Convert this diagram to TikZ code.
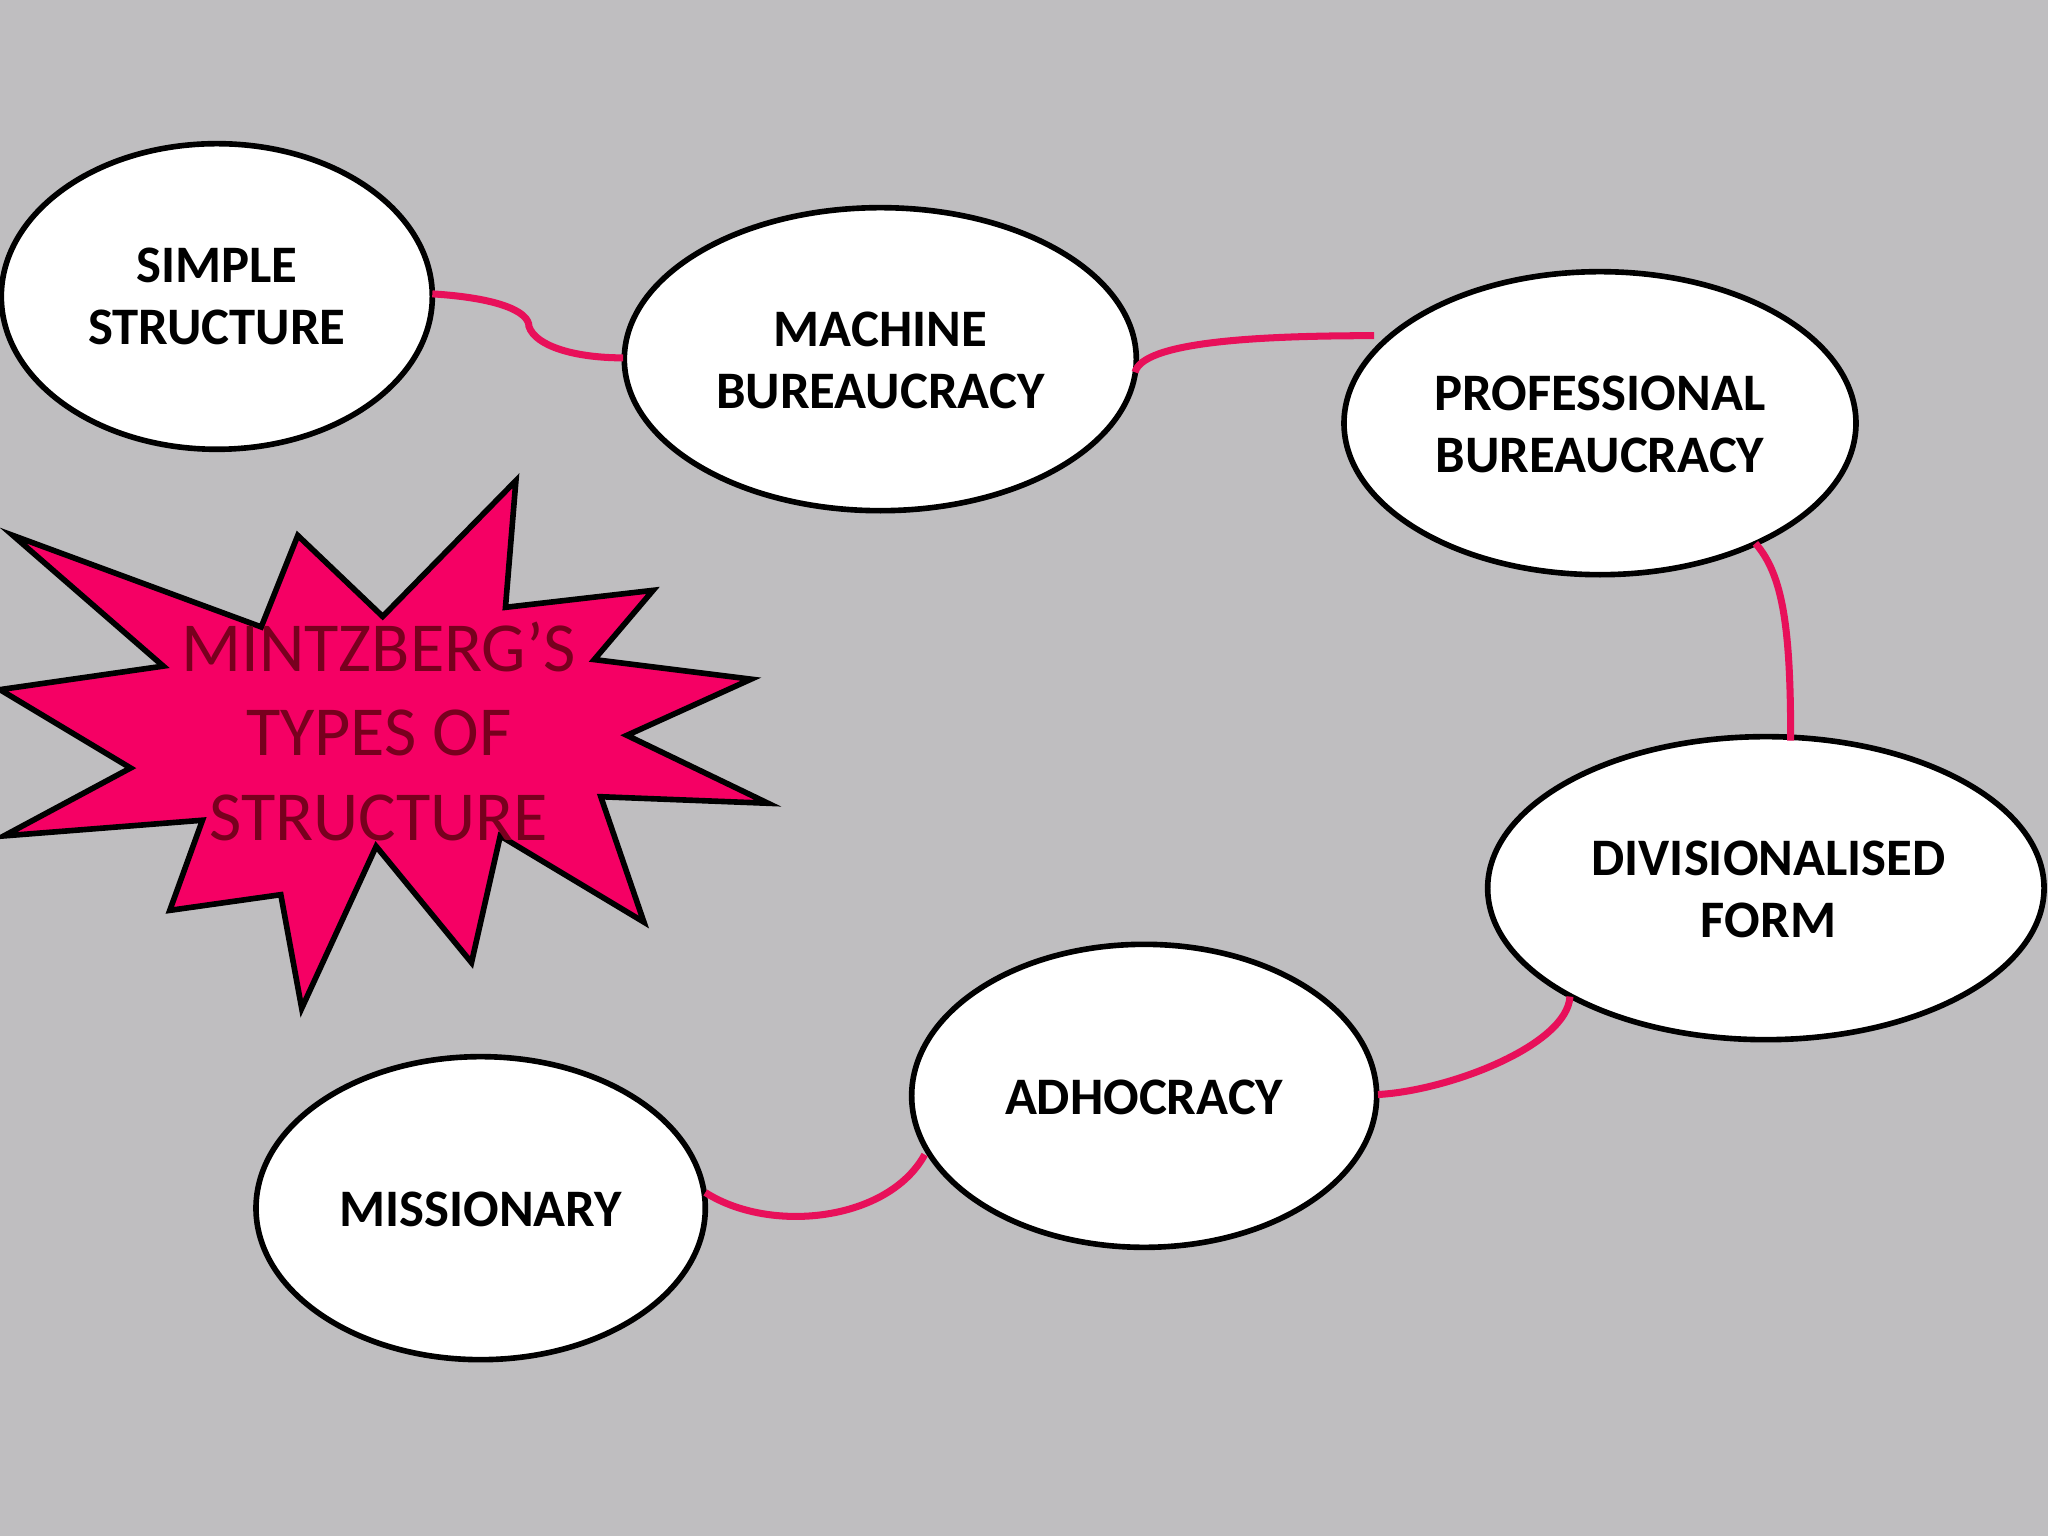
\documentclass[tikz,border=0pt]{standalone}
\usepackage{fontspec}
\setmainfont{Carlito}
\begin{document}
\begin{tikzpicture}[x=0.01306cm,y=-0.01306cm,
  ell/.style={draw=black,line width=1.6pt,fill=white},
  lbl/.style={font=\bfseries\fontsize{15}{17.5}\selectfont,align=center},
  conn/.style={draw={rgb,255:red,232;green,16;blue,90},line width=2pt}]
\definecolor{bg}{RGB}{191,190,192}
\definecolor{starpink}{RGB}{245,0,100}
\definecolor{startext}{RGB}{120,0,30}
\fill[bg] (0,0) rectangle (1568,1176);
\useasboundingbox (0,0) rectangle (1568,1176);
% ellipses
\draw[ell] (166,227) ellipse [x radius=165,y radius=117];
\draw[ell] (674,275) ellipse [x radius=196,y radius=116];
\draw[ell] (1225,324) ellipse [x radius=196,y radius=116];
\draw[ell] (1352,680) ellipse [x radius=213,y radius=116];
\draw[ell] (876,839) ellipse [x radius=178,y radius=116];
\draw[ell] (368,925) ellipse [x radius=172,y radius=116];
\node[lbl] (s) at (166,227) {SIMPLE\\STRUCTURE};
\node[lbl] (m) at (674,276) {MACHINE\\BUREAUCRACY};
\node[lbl] (p) at (1225,325) {PROFESSIONAL\\BUREAUCRACY};
\node[lbl] (d) at (1354,681) {DIVISIONALISED\\FORM};
\node[lbl] (a) at (876,840) {ADHOCRACY};
\node[lbl] (mi) at (368,926) {MISSIONARY};
\coordinate (s1) at (331,225); \coordinate (m1) at (477,274);
\coordinate (m2) at (869,285); \coordinate (p1) at (1052,257);
\coordinate (p2) at (1344,416); \coordinate (d1) at (1371,567);
\coordinate (d2) at (1202,763); \coordinate (a1) at (1055,838);
\coordinate (a2) at (708,884); \coordinate (mi1) at (540,913);
\draw[conn] (s1) .. controls (380,228) and (405,238) .. (405,250) .. controls (410,265) and (440,274) .. (m1);
\draw[conn] (m2) .. controls (875,262) and (960,257) .. (p1);
\draw[conn] (p2) .. controls (1365,440) and (1371,480) .. (d1);
\draw[conn] (d2) .. controls (1200,800) and (1110,835) .. (a1);
\draw[conn] (a2) .. controls (680,935) and (590,945) .. (mi1);
% star
\draw[fill=starpink,draw=black,line width=1.6pt]
 (10,410) -- (200,480) -- (228,410) -- (293,472) -- (395,368) -- (387,465) -- (500,452) -- (455,505) -- (575,520) -- (480,563) -- (588,615) -- (460,610) -- (493,706) -- (383,640) -- (361,737) -- (288,648) -- (231,772) -- (215,685) -- (130,697) -- (155,628) -- (3,640) -- (100,588) -- (0,528) -- (125,510) -- cycle;
\node[font=\fontsize{20}{24}\selectfont,align=center,text=startext] (t) at (290,560) {MINTZBERG’S\\TYPES OF\\STRUCTURE};
\end{tikzpicture}
\end{document}
